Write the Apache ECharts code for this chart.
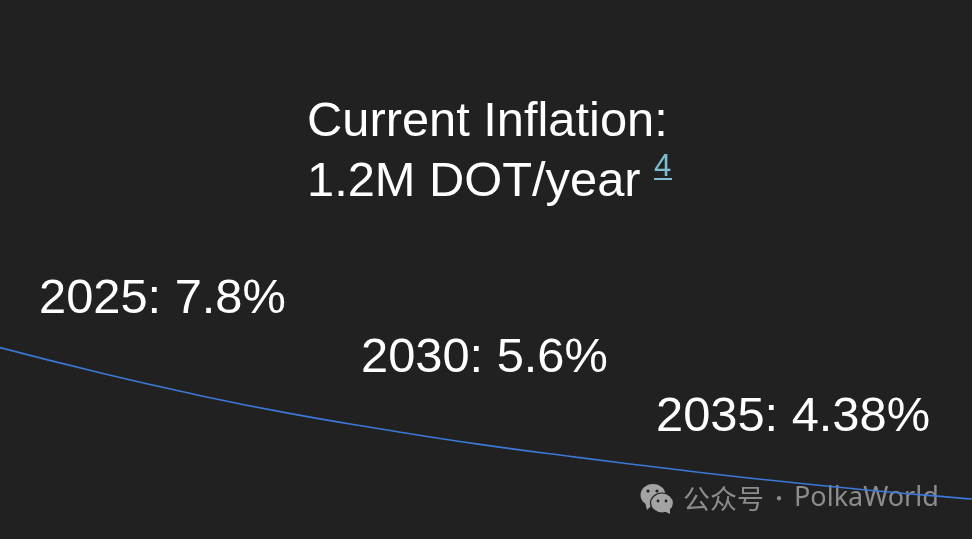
<!DOCTYPE html>
<html>
<head>
    <meta charset="utf-8">
    <script src="https://cdn.jsdelivr.net/npm/echarts@6/dist/echarts.min.js"></script>
    <title>Current Inflation</title>
    <style>
    html,body{margin:0;padding:0;background:#212121;}
    </style>
</head>
<body>
    <div id="main" style="width:972px;height:539px;"></div>
    <script type="text/javascript">
    var years = [2025, 2026, 2027, 2028, 2029, 2030, 2031, 2032, 2033, 2034, 2035, 2035.125];
    var inflation = [7.8, 7.25, 6.75, 6.31, 5.94, 5.6, 5.31, 5.04, 4.79, 4.57, 4.38, 4.36];
    var titleLines = ['Current Inflation:', '1.2M DOT/year'];
    var footnote = '4';
    var yearLabels = ['2025: 7.8%', '2030: 5.6%', '2035: 4.38%'];
    var watermark = ['公众号', '·', 'PolkaWorld'];

    var lineData = [];
    for (var i = 0; i < years.length; i++) {
        lineData.push([years[i], inflation[i]]);
    }

    var bigFont = '48.8px "Liberation Sans", Arial, sans-serif';
    var bigText = function (x, y, str) {
        return {
            type: 'text', left: x, top: y, silent: true,
            style: { text: str, font: bigFont, fill: '#ffffff' }
        };
    };
    var grey = '#8c8c8c';

    var myChart = echarts.init(document.getElementById('main'));
    myChart.setOption({
        backgroundColor: '#212121',
        animation: false,
        grid: { left: 0, right: 0, top: 0, bottom: 0 },
        xAxis: { type: 'value', min: 2025, max: 2035.125, show: false },
        yAxis: { type: 'value', min: 3.45, max: 15.7, show: false },
        series: [{
            type: 'line',
            data: lineData,
            smooth: true,
            symbol: 'none',
            lineStyle: { color: '#3c78d8', width: 1.6 }
        }],
        graphic: [
            bigText(307, 98, titleLines[0]),
            bigText(307, 158, titleLines[1]),
            {
                type: 'text', left: 654, top: 152, silent: true,
                style: { text: footnote, font: '31px "Liberation Sans", Arial, sans-serif', fill: '#7fbcd2' }
            },
            {
                type: 'rect', left: 654, top: 178, silent: true,
                shape: { width: 18, height: 2 },
                style: { fill: '#7fbcd2' }
            },
            bigText(39, 275, yearLabels[0]),
            bigText(361, 334, yearLabels[1]),
            bigText(656, 393, yearLabels[2]),
            // wechat icon
            { type: 'ellipse', silent: true, shape: { cx: 653, cy: 495, rx: 12.5, ry: 11 }, style: { fill: '#a3a3a3' } },
            { type: 'polygon', silent: true, shape: { points: [[645, 502], [652, 505], [647, 510]] }, style: { fill: '#a3a3a3' } },
            { type: 'circle', silent: true, shape: { cx: 648, cy: 491, r: 1.6 }, style: { fill: '#212121' } },
            { type: 'circle', silent: true, shape: { cx: 657, cy: 491, r: 1.6 }, style: { fill: '#212121' } },
            { type: 'ellipse', silent: true, shape: { cx: 662, cy: 503, rx: 11.5, ry: 10 }, style: { fill: '#a3a3a3', stroke: '#212121', lineWidth: 1.2 } },
            { type: 'polygon', silent: true, shape: { points: [[664, 511], [670, 509], [670, 514]] }, style: { fill: '#a3a3a3' } },
            { type: 'circle', silent: true, shape: { cx: 658, cy: 501, r: 1.4 }, style: { fill: '#212121' } },
            { type: 'circle', silent: true, shape: { cx: 666, cy: 501, r: 1.4 }, style: { fill: '#212121' } },
            {
                type: 'text', left: 683, top: 485, silent: true,
                style: { text: watermark[0], font: '27px "Noto Sans CJK SC", sans-serif', fill: grey }
            },
            {
                type: 'text', left: 769, top: 488, silent: true,
                style: { text: watermark[1], font: '20px "Noto Sans CJK SC", sans-serif', fill: grey }
            },
            {
                type: 'text', left: 794, top: 485, silent: true,
                style: { text: watermark[2], font: '27px "Noto Sans", sans-serif', fill: grey }
            }
        ]
    });
    </script>
</body>
</html>
